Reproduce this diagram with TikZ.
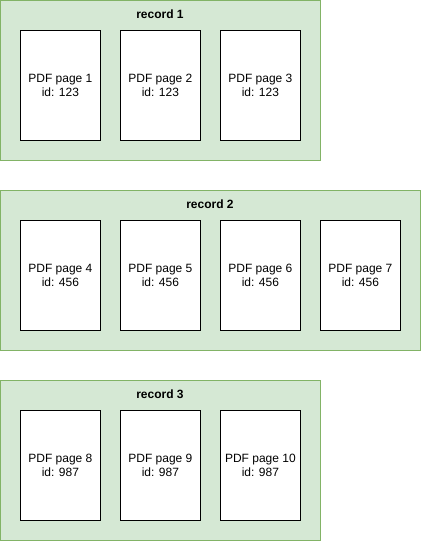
\documentclass[tikz,border=0pt]{standalone}
\usepackage{fontspec}
\setmainfont{Liberation Sans}
\definecolor{gfill}{HTML}{D5E8D4}
\definecolor{gdraw}{HTML}{82B366}
\tikzset{
  recbox/.style={draw=gdraw, fill=gfill, line width=0.8pt},
  pagebox/.style={draw=black, fill=white, line width=0.8pt, minimum width=80pt, minimum height=110pt, anchor=north west, inner sep=0pt, align=center, font=\fontsize{12}{14}\selectfont},
  rectitle/.style={font=\bfseries\fontsize{12}{14}\selectfont, anchor=center}
}
\begin{document}
\begin{tikzpicture}[x=1pt,y=-1pt]
\useasboundingbox (0,0) rectangle (421,541);
% record 1
\draw[recbox] (0.5,0.5) rectangle (320,160) coordinate (r1br);
\node[rectitle] (t1) at (160,14) {record 1};
\node[pagebox] (p1) at (20,30) {PDF page 1\\id: 123};
\node[pagebox] (p2) at (120,30) {PDF page 2\\id: 123};
\node[pagebox] (p3) at (220,30) {PDF page 3\\id: 123};
% record 2
\draw[recbox] (0.5,190) rectangle (420.3,350);
\node[rectitle] (t2) at (210,204) {record 2};
\node[pagebox] (p4) at (20,220) {PDF page 4\\id: 456};
\node[pagebox] (p5) at (120,220) {PDF page 5\\id: 456};
\node[pagebox] (p6) at (220,220) {PDF page 6\\id: 456};
\node[pagebox] (p7) at (320,220) {PDF page 7\\id: 456};
% record 3
\draw[recbox] (0.5,380) rectangle (320,540.3);
\node[rectitle] (t3) at (160,394) {record 3};
\node[pagebox] (p8) at (20,410) {PDF page 8\\id: 987};
\node[pagebox] (p9) at (120,410) {PDF page 9\\id: 987};
\node[pagebox] (p10) at (220,410) {PDF page 10\\id: 987};
\end{tikzpicture}
\end{document}
